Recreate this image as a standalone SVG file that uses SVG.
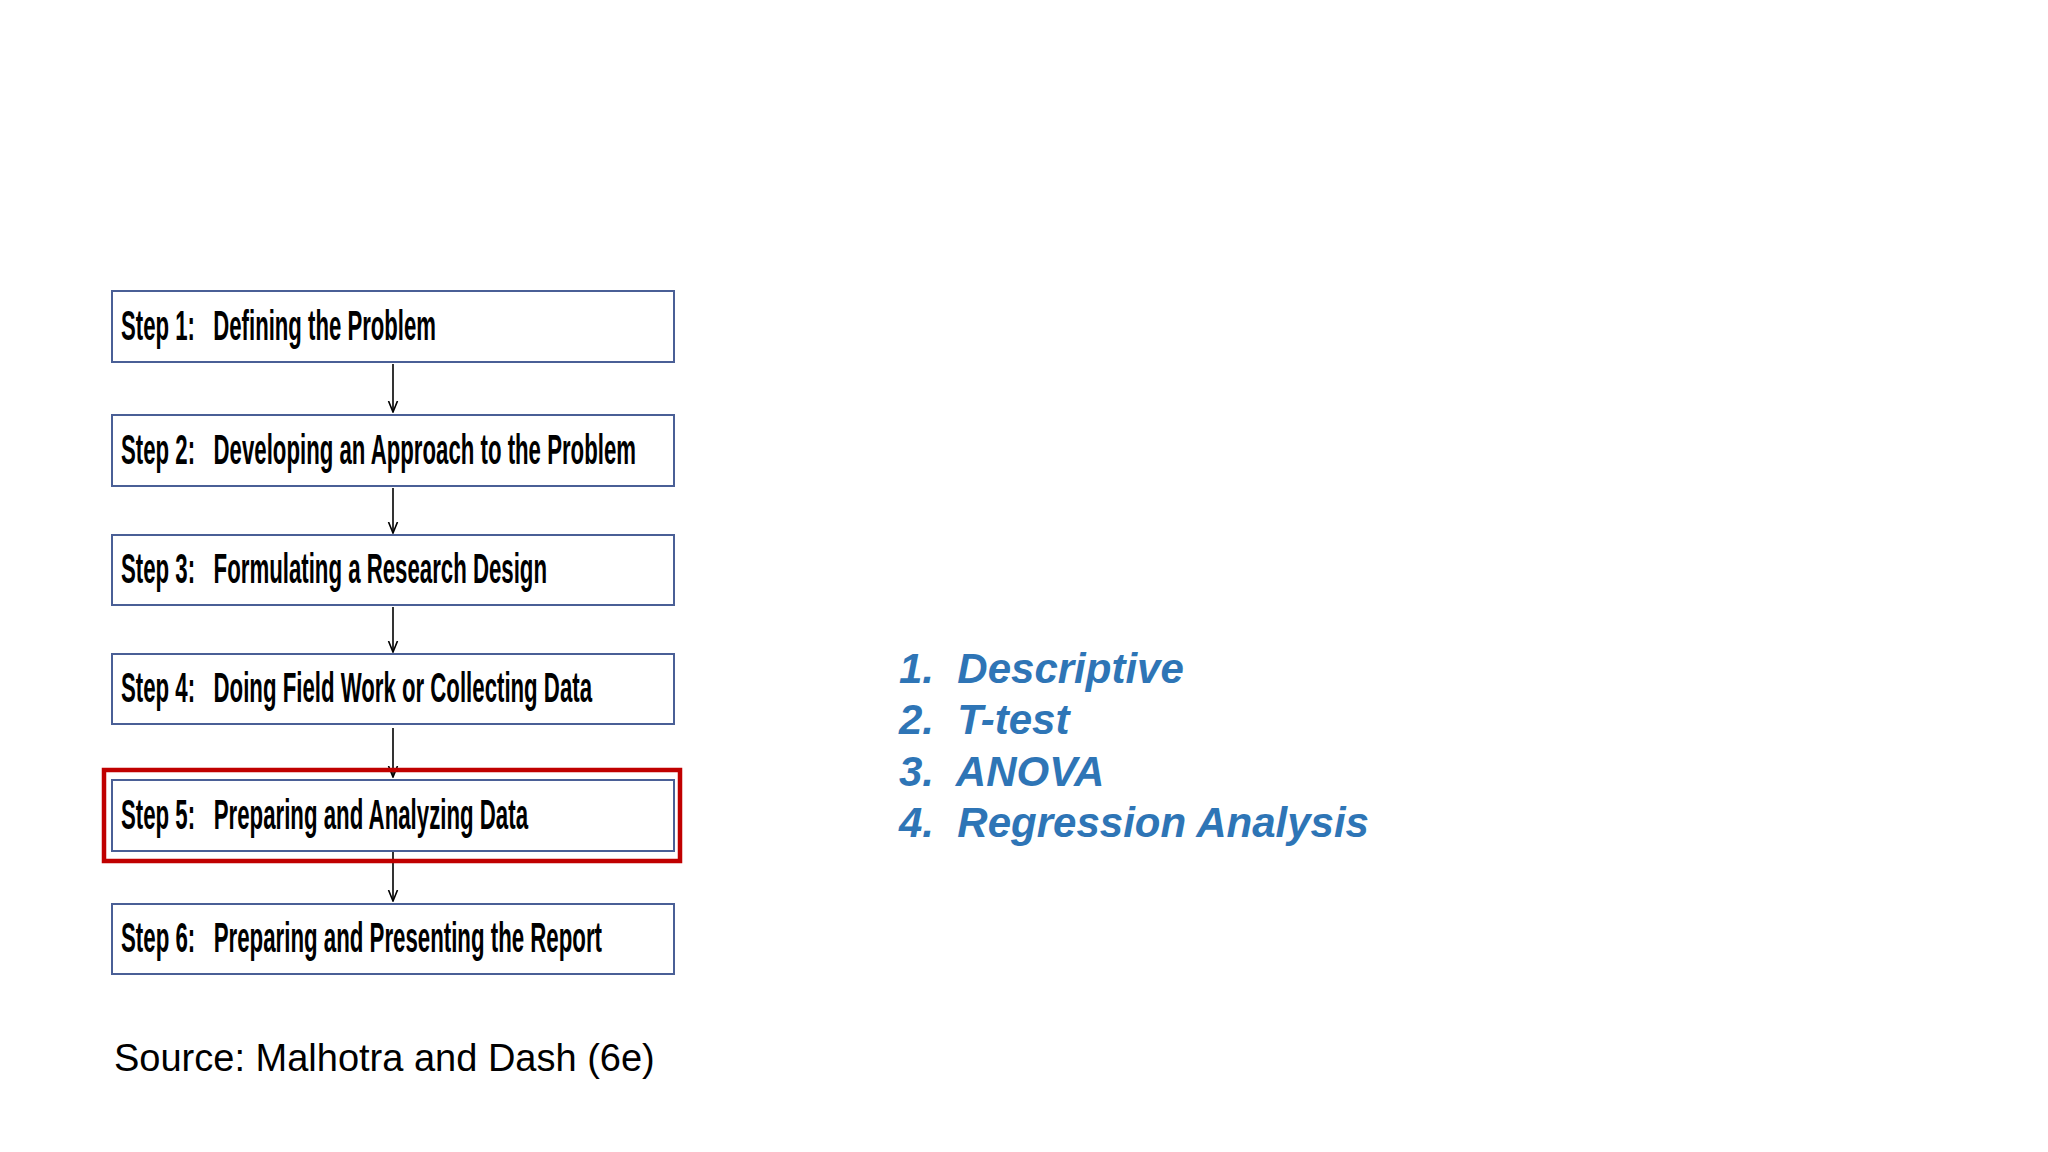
<svg xmlns="http://www.w3.org/2000/svg" width="2048" height="1152" viewBox="0 0 2048 1152" xml:space="preserve">
<style>
.box{fill:#ffffff;stroke:#4a5f96;stroke-width:2}
.st{font-family:"Liberation Sans Narrow","Liberation Sans",Arial,sans-serif;font-weight:bold;font-size:42px;fill:#000;white-space:pre}
.conn{stroke:#000;stroke-width:1.6;fill:none}
.list{font-family:"Liberation Sans",Arial,sans-serif;font-weight:bold;font-style:italic;font-size:42px;fill:#2e75b6;white-space:pre}
.src{font-family:"Liberation Sans",Arial,sans-serif;font-size:38px;fill:#000}
</style>
<defs>
<marker id="arr" viewBox="0 0 12 12" refX="11" refY="6" markerWidth="12" markerHeight="12" markerUnits="userSpaceOnUse" orient="auto">
<path d="M0,1.5 L11,6 L0,10.5" fill="none" stroke="#000" stroke-width="1.6"/>
</marker>
</defs>
<rect width="2048" height="1152" fill="#ffffff"/>
<g id="step1">
<rect class="box" x="112" y="291" width="562" height="71"/>
<text class="st" x="121" y="340" textLength="315" lengthAdjust="spacingAndGlyphs">Step 1:   Defining the Problem</text>
</g>
<g id="step2">
<rect class="box" x="112" y="415" width="562" height="71"/>
<text class="st" x="121" y="464" textLength="515" lengthAdjust="spacingAndGlyphs">Step 2:   Developing an Approach to the Problem</text>
</g>
<g id="step3">
<rect class="box" x="112" y="535" width="562" height="70"/>
<text class="st" x="121" y="583" textLength="426" lengthAdjust="spacingAndGlyphs">Step 3:   Formulating a Research Design</text>
</g>
<g id="step4">
<rect class="box" x="112" y="654" width="562" height="70"/>
<text class="st" x="121" y="702" textLength="471" lengthAdjust="spacingAndGlyphs">Step 4:   Doing Field Work or Collecting Data</text>
</g>
<g id="step5">
<rect class="box" x="112" y="780" width="562" height="71"/>
<text class="st" x="121" y="829" textLength="407" lengthAdjust="spacingAndGlyphs">Step 5:   Preparing and Analyzing Data</text>
</g>
<g id="step6">
<rect class="box" x="112" y="904" width="562" height="70"/>
<text class="st" x="121" y="952" textLength="481" lengthAdjust="spacingAndGlyphs">Step 6:   Preparing and Presenting the Report</text>
</g>
<g id="connectors">
<line class="conn" x1="393" y1="364" x2="393" y2="412" marker-end="url(#arr)"/>
<line class="conn" x1="393" y1="488" x2="393" y2="533" marker-end="url(#arr)"/>
<line class="conn" x1="393" y1="607" x2="393" y2="652" marker-end="url(#arr)"/>
<line class="conn" x1="393" y1="728" x2="393" y2="777" marker-end="url(#arr)"/>
<line class="conn" x1="393" y1="852" x2="393" y2="901" marker-end="url(#arr)"/>
</g>
<g id="highlight">
<rect x="104" y="770" width="576" height="91" fill="none" stroke="#c00000" stroke-width="4.5"/>
</g>
<g id="list">
<text class="list" x="899" y="683">1.  Descriptive</text>
<text class="list" x="899" y="734">2.  T-test</text>
<text class="list" x="899" y="786">3.  ANOVA</text>
<text class="list" x="899" y="837">4.  Regression Analysis</text>
</g>
<g id="source">
<text class="src" x="114" y="1071">Source: Malhotra and Dash (6e)</text>
</g>
</svg>
